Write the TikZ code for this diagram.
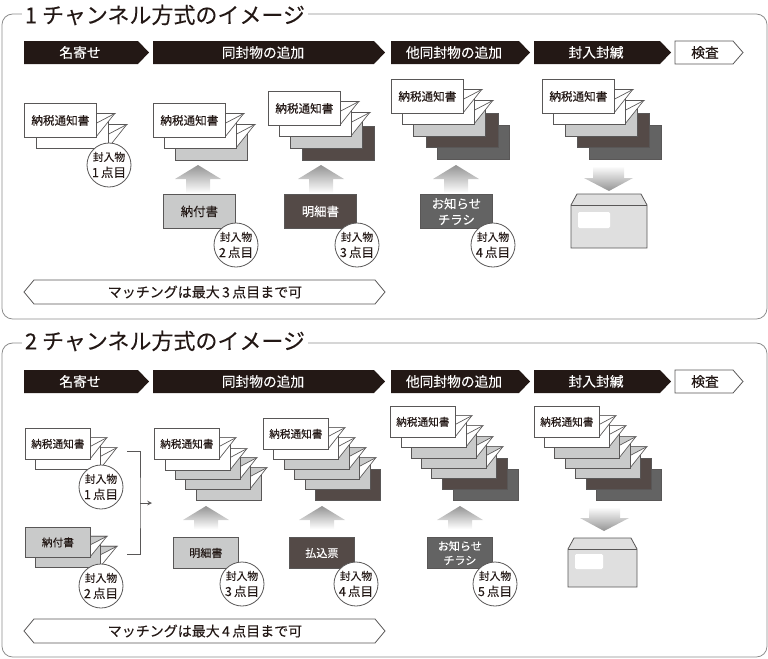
\documentclass[tikz,border=0pt]{standalone}
\usepackage{fontspec}
\setmainfont{Noto Sans CJK JP}[FakeBold=0.12]
\definecolor{inkblack}{HTML}{231815}
\definecolor{edgegray}{HTML}{595757}
\definecolor{panelgray}{HTML}{8C8C8C}
\definecolor{sheetgray}{HTML}{C9CACA}
\definecolor{sheetdark}{HTML}{544A47}
\definecolor{sheetslate}{HTML}{636363}
\definecolor{envgray}{HTML}{DFDFDF}
\newcommand{\ptwo}{\fontsize{8}{9.5}\selectfont}
\tikzset{
  panel/.style={draw=panelgray, line width=0.6pt, rounded corners=8pt},
  paneltitle/.style={fill=white, anchor=west, inner sep=2pt, text=inkblack, font=\fontsize{16.5}{18}\selectfont},
  stagelabel/.style={text=white, inner sep=0pt, font=\fontsize{10.3}{12}\selectfont},
  sheetbox/.style={draw=edgegray, line width=0.6pt, anchor=north west, inner sep=0pt, text=inkblack, font=\fontsize{8.7}{10}\selectfont},
  foldline/.style={draw=edgegray, line width=0.5pt},
  itembox/.style={draw=edgegray, line width=0.6pt, anchor=north west, inner sep=0pt, align=center, font=\fontsize{9.3}{12}\selectfont},
  countcircle/.style={circle, draw=edgegray, fill=white, line width=0.6pt, minimum size=33pt, inner sep=0pt, align=center, text=inkblack},
  matchlabel/.style={inner sep=0pt, text=inkblack, font=\fontsize{10.5}{12}\selectfont},
}
% x0, x1, y0, name, centre of text, text
\newcommand{\stagearrow}[6]{
  \fill[inkblack] (#1,#3) -- (#2-11,#3) -- (#2,#3+11.5) -- (#2-11,#3+23) -- (#1,#3+23) -- cycle;
  \node[stagelabel] (#4) at (#5,#3+11.5) {#6};
}
% name, x, y, w, h, fill, text
\newcommand{\foldsheet}[7]{
  \draw[foldline, fill=white] (#2+#4,#3+0.31*#5) -- (#2+#4+0.26*#4,#3+0.31*#5) -- (#2+#4,#3+#5) -- cycle;
  \draw[foldline, fill=#6] (#2+#4,#3+0.31*#5) -- (#2+#4+0.26*#4,#3+0.31*#5) -- (#2+#4,#3+0.6*#5) -- cycle;
  \flatsheet{#1}{#2}{#3}{#4}{#5}{#6}{#7}
}
\newcommand{\flatsheet}[7]{
  \node[sheetbox, fill=#6, minimum width=#4*0.75pt, minimum height=#5*0.75pt] (#1) at (#2,#3) {#7};
}
% centre x, tip y, bottom y
\newcommand{\liftarrow}[3]{
  \shade[top color=black!42, bottom color=white] (#1,#2) -- (#1+23,#2+14) -- (#1+12,#2+14) -- (#1+12,#3) -- (#1-12,#3) -- (#1-12,#2+14) -- (#1-23,#2+14) -- cycle;
}
\newcommand{\countmark}[4]{
  \node[countcircle] (#1) at (#2,#3) {\fontsize{8.1}{9}\selectfont 封入物\\\fontsize{9.4}{9.4}\selectfont #4\,点目};
}
% x0, x1, y0, name, text
\newcommand{\matchbar}[5]{
  \draw[edgegray, line width=0.6pt, fill=white] (#1,#3+12) -- (#1+10,#3) -- (#2-10,#3) -- (#2,#3+12) -- (#2-10,#3+24) -- (#1+10,#3+24) -- cycle;
  \node[matchlabel] (#4) at (205,#3+12) {#5};
}
\begin{document}
\begin{tikzpicture}[x=0.75pt,y=0.75pt,yscale=-1,xscale=1]
\useasboundingbox (0,0) rectangle (768,658);

%Panels
\draw[panel] (2,14) rectangle (767,319);
\draw[panel] (2,343) rectangle (767,657);
% Text Node
\node[paneltitle] (titleone) at (22,15) {1 チャンネル方式のイメージ};
\node[paneltitle] (titletwo) at (22,341) {2 チャンネル方式のイメージ};

%Stages, first panel
\stagearrow{24}{149}{41}{nameone}{80}{名寄せ}
\stagearrow{153}{385}{41}{addone}{263}{同封物の追加}
\stagearrow{391}{530}{41}{otherone}{454}{他同封物の追加}
\stagearrow{534}{671}{41}{sealone}{596}{封入封緘}
\draw[edgegray, line width=0.6pt, fill=white] (675,41) -- (733,41) -- (743,52.5) -- (733,64) -- (675,64) -- cycle;
\node[stagelabel, text=inkblack] (checkone) at (705,52.5) {検査};

%Stages, second panel
\stagearrow{24}{149}{370}{nametwo}{80}{名寄せ}
\stagearrow{153}{385}{370}{addtwo}{263}{同封物の追加}
\stagearrow{391}{530}{370}{othertwo}{454}{他同封物の追加}
\stagearrow{534}{671}{370}{sealtwo}{596}{封入封緘}
\draw[edgegray, line width=0.6pt, fill=white] (675,370) -- (733,370) -- (743,381.5) -- (733,393) -- (675,393) -- cycle;
\node[stagelabel, text=inkblack] (checktwo) at (705,381.5) {検査};

%First panel, column 1
\foldsheet{oa2}{36}{114}{72}{34}{white}{}
\foldsheet{oa1}{24}{103}{72}{34}{white}{納税通知書}
\countmark{oc1}{109}{165}{1}

%First panel, column 2
\flatsheet{ob3}{175}{126}{72}{34}{sheetgray}{}
\foldsheet{ob2}{164}{114}{72}{34}{white}{}
\foldsheet{ob1}{153}{103}{72}{34}{white}{納税通知書}
\liftarrow{198}{165}{193}
\node[itembox, fill=sheetgray, text=inkblack, minimum width=54pt, minimum height=25.5pt] (obox) at (163,194) {納付書};
\countmark{oc2}{236}{245}{2}

%First panel, column 3
\flatsheet{od4}{302}{126}{72}{34}{sheetdark}{}
\flatsheet{od3}{290}{114}{72}{34}{sheetgray}{}
\foldsheet{od2}{279}{102}{72}{34}{white}{}
\foldsheet{od1}{268}{91}{72}{34}{white}{納税通知書}
\liftarrow{321}{165}{193}
\node[itembox, fill=sheetdark, text=white, minimum width=54pt, minimum height=25.5pt] (odbox) at (284,194) {明細書};
\countmark{oc3}{357}{245}{3}

%First panel, column 4
\flatsheet{oe5}{437}{125}{72}{34}{sheetslate}{}
\flatsheet{oe4}{426}{113}{72}{34}{sheetdark}{}
\flatsheet{oe3}{413}{102}{72}{34}{sheetgray}{}
\foldsheet{oe2}{402}{90}{72}{34}{white}{}
\foldsheet{oe1}{391}{79}{72}{34}{white}{納税通知書}
\liftarrow{456}{165}{193}
\node[itembox, fill=sheetslate, text=white, minimum width=54pt, minimum height=25.5pt] (oebox) at (420,194) {お知らせ\\チラシ};
\countmark{oc4}{493}{245}{4}

%First panel, column 5
\flatsheet{of5}{589}{125}{72}{34}{sheetslate}{}
\flatsheet{of4}{577}{113}{72}{34}{sheetdark}{}
\flatsheet{of3}{565}{102}{72}{34}{sheetgray}{}
\foldsheet{of2}{553}{90}{72}{34}{white}{}
\foldsheet{of1}{542}{79}{72}{34}{white}{納税通知書}
\shade[top color=white, bottom color=black!42] (593,166) -- (624,166) -- (624,178) -- (633,178) -- (609,191) -- (584,178) -- (593,178) -- cycle;
\draw[edgegray, line width=0.6pt, fill=envgray] (571,205) -- (577,194) -- (641,194) -- (647,205) -- (647,248) -- (571,248) -- cycle;
\draw[edgegray, line width=0.6pt] (571,205) -- (647,205);
\fill[white, rounded corners=1pt] (578,212) rectangle (610,228);

\matchbar{24}{385}{280}{matchone}{マッチングは最大\,3\,点目まで可}

%Second panel, column 1
\foldsheet{ta2}{35}{438}{65}{31}{white}{}
\foldsheet{ta1}{25}{428}{65}{31}{white}{\ptwo 納税通知書}
\countmark{tc1}{101}{487}{1}
\foldsheet{tg2}{35}{537}{65}{30}{sheetgray}{}
\foldsheet{tg1}{25}{527}{65}{30}{sheetgray}{\ptwo 納付書}
\countmark{tc2}{101}{586}{2}

%Bracket
\coordinate (brtop) at (127,451);
\coordinate (brbottom) at (127,554);
\coordinate (brmid) at (140,503);
\coordinate (brend) at (152,503);
\draw[edgegray, line width=0.6pt] (brtop) -| (brmid) |- (brbottom);
\draw[edgegray, line width=0.6pt, ->, >=stealth] (brmid) -- (brend);

%Second panel, column 2
\flatsheet{tb5}{196}{469}{65}{31}{sheetgray}{}
\foldsheet{tb4}{185}{458}{65}{31}{sheetgray}{}
\foldsheet{tb3}{175}{448}{65}{31}{sheetgray}{}
\foldsheet{tb2}{165}{439}{65}{31}{white}{}
\foldsheet{tb1}{154}{428}{65}{31}{white}{\ptwo 納税通知書}
\liftarrow{206}{506}{529}
\node[itembox, fill=sheetgray, text=inkblack, minimum width=48.75pt, minimum height=23.25pt, font=\fontsize{8.3}{10.7}\selectfont] (tbbox) at (173,537) {明細書};
\countmark{tc3}{242}{584}{3}

%Second panel, column 3
\flatsheet{td6}{315}{469}{65}{31}{sheetdark}{}
\flatsheet{td5}{305}{458}{65}{31}{sheetgray}{}
\foldsheet{td4}{294}{448}{65}{31}{sheetgray}{}
\foldsheet{td3}{284}{438}{65}{31}{sheetgray}{}
\foldsheet{td2}{273}{428}{65}{31}{white}{}
\foldsheet{td1}{263}{418}{65}{31}{white}{\ptwo 納税通知書}
\liftarrow{322}{506}{529}
\node[itembox, fill=sheetdark, text=white, minimum width=48.75pt, minimum height=23.25pt, font=\fontsize{8.3}{10.7}\selectfont] (tdbox) at (289,537) {払込票};
\countmark{tc4}{356}{584}{4}

%Second panel, column 4
\flatsheet{te7}{453}{469}{65}{31}{sheetslate}{}
\flatsheet{te6}{442}{458}{65}{31}{sheetdark}{}
\flatsheet{te5}{431}{447}{65}{31}{sheetgray}{}
\foldsheet{te4}{421}{437}{65}{31}{sheetgray}{}
\foldsheet{te3}{411}{427}{65}{31}{sheetgray}{}
\foldsheet{te2}{401}{416}{65}{31}{white}{}
\foldsheet{te1}{390}{406}{65}{31}{white}{\ptwo 納税通知書}
\liftarrow{460}{506}{529}
\node[itembox, fill=sheetslate, text=white, minimum width=48.75pt, minimum height=23.25pt, font=\fontsize{8.3}{10.7}\selectfont] (tebox) at (427,537) {お知らせ\\チラシ};
\countmark{tc5}{495}{584}{5}

%Second panel, column 5
\flatsheet{tf7}{596}{469}{65}{31}{sheetslate}{}
\flatsheet{tf6}{586}{458}{65}{31}{sheetdark}{}
\flatsheet{tf5}{575}{447}{65}{31}{sheetgray}{}
\foldsheet{tf4}{565}{437}{65}{31}{sheetgray}{}
\foldsheet{tf3}{554}{427}{65}{31}{sheetgray}{}
\foldsheet{tf2}{544}{416}{65}{31}{white}{}
\foldsheet{tf1}{534}{406}{65}{31}{white}{\ptwo 納税通知書}
\shade[top color=white, bottom color=black!42] (589,507) -- (620,507) -- (620,518) -- (629,518) -- (604,531) -- (580,518) -- (589,518) -- cycle;
\draw[edgegray, line width=0.6pt, fill=envgray] (568,549) -- (574,538) -- (631,538) -- (637,549) -- (637,587) -- (568,587) -- cycle;
\draw[edgegray, line width=0.6pt] (568,549) -- (637,549);
\fill[white, rounded corners=1pt] (575,554) rectangle (603,569);

\matchbar{24}{385}{619}{matchtwo}{マッチングは最大\,4\,点目まで可}

\end{tikzpicture}
\end{document}
